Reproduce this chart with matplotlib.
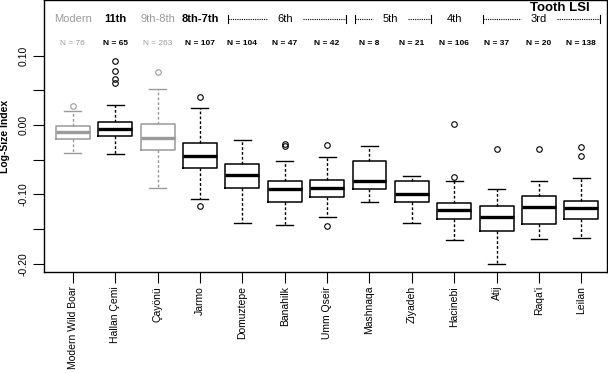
import matplotlib
matplotlib.use('Agg')
import matplotlib.pyplot as plt
import matplotlib.transforms as mtransforms

plt.rcParams['font.family'] = ['Liberation Sans', 'DejaVu Sans']

# site names and sample sizes
sites = ['Modern Wild Boar', 'Hallan Çemi', 'Çayönü', 'Jarmo', 'Domuztepe',
         'Banahilk', 'Umm Qseir', 'Mashnaqa', 'Ziyadeh', 'Hacinebi', 'Atij',
         "Raqa'i", 'Leilan']
n_sizes = [76, 65, 263, 107, 104, 47, 42, 8, 21, 106, 37, 20, 138]
grey_sites = [0, 2]

# box statistics
whislo = [-0.040, -0.042, -0.091, -0.107, -0.141, -0.144, -0.1325, -0.111,
          -0.141, -0.166, -0.201, -0.164, -0.163]
q1 = [-0.020, -0.0164, -0.036, -0.0617, -0.090, -0.1108, -0.104, -0.0915,
      -0.1108, -0.135, -0.152, -0.1426, -0.136]
med = [-0.010, -0.0053, -0.0183, -0.0439, -0.0718, -0.092, -0.0906, -0.080,
       -0.100, -0.1223, -0.132, -0.118, -0.119]
q3 = [-0.0014, 0.0048, 0.0019, -0.0255, -0.0559, -0.080, -0.079, -0.0525,
      -0.081, -0.1122, -0.1166, -0.1021, -0.1088]
whishi = [0.0207, 0.0284, 0.052, 0.025, -0.0217, -0.0525, -0.0458,
          -0.0303, -0.0737, -0.081, -0.0925, -0.0805, -0.0761]
fliers = [[0.0275], [0.0925, 0.078, 0.0658, 0.060], [0.076], [0.0405, -0.1166],
          [], [-0.028, -0.030], [-0.0284, -0.145], [], [], [0.001, -0.0747],
          [-0.0342], [-0.0342], [-0.0322, -0.0439]]

# period header
periods = ['Modern', '11th', '9th-8th', '8th-7th', '6th', '5th', '4th', '3rd']
period_groups = [[0], [1], [2], [3], [4, 5, 6], [7, 8], [9], [10, 11, 12]]

fig = plt.figure(figsize=(6.08, 3.73), dpi=100)
ax = fig.add_axes([0.0724, 0.2708, 0.9256, 0.7279])

grey = '#9a9a9a'
for i in range(len(sites)):
    col = grey if i in grey_sites else 'black'
    stats = [dict(whislo=whislo[i], q1=q1[i], med=med[i], q3=q3[i],
                  whishi=whishi[i], fliers=fliers[i])]
    ax.bxp(stats, positions=[i + 1], widths=0.8, showfliers=True,
           boxprops=dict(color=col, lw=1.1),
           medianprops=dict(color=col, lw=2.4, solid_capstyle='butt'),
           whiskerprops=dict(color=col, lw=1.0, ls=(0, (2, 1.5))),
           capprops=dict(color=col, lw=1.0),
           capwidths=0.4,
           flierprops=dict(marker='o', markersize=4, markerfacecolor='none',
                           markeredgecolor=col, markeredgewidth=0.8))

ax.set_xlim(0.32, 13.6)
ax.set_ylim(-0.2118, 0.1796)
ax.set_xticks(range(1, len(sites) + 1))
ax.set_xticklabels(sites, rotation=90, fontsize=7.5)
ax.set_yticks([0.10, 0.05, 0.00, -0.05, -0.10, -0.15, -0.20])
ax.set_yticklabels(['0.10', '', '0.00', '', '-0.10', '', '-0.20'],
                   rotation=90, va='center', fontsize=7.5)
ax.tick_params(axis='both', length=8, width=0.8, color='black')
ax.tick_params(axis='x', pad=2)
ax.tick_params(axis='y', pad=3)
for sp in ax.spines.values():
    sp.set_linewidth(1.0)
ax.set_ylabel('Log-Size Index', fontsize=7.5, fontweight='bold', labelpad=6)

trans = mtransforms.blended_transform_factory(ax.transData, ax.transAxes)

# period labels and brackets
for name, grp in zip(periods, period_groups):
    is_grey = grp[0] in grey_sites
    col = grey if is_grey else 'black'
    center = (grp[0] + grp[-1]) / 2 + 1
    weight = 'bold' if name in ('11th', '8th-7th') else 'normal'
    ax.text(center, 0.932, name, transform=trans, ha='center', va='center',
            fontsize=8, color=col, fontweight=weight)
    if len(grp) > 1:
        x0 = grp[0] + 1 - 0.33
        x1 = grp[-1] + 1 + 0.45
        for a, b in [(x0, center - 0.42), (center + 0.42, x1)]:
            ax.plot([a, b], [0.932, 0.932], transform=trans, color='black',
                    lw=0.8, ls=(0, (1, 1)), clip_on=False)
        for xe in (x0, x1):
            ax.plot([xe, xe], [0.917, 0.947], transform=trans, color='black',
                    lw=0.8, clip_on=False)

# sample sizes
for i, n in enumerate(n_sizes):
    is_grey = i in grey_sites
    ax.text(i + 1, 0.843, 'N = %d' % n, transform=trans, ha='center',
            va='center', fontsize=6, color=grey if is_grey else 'black',
            fontweight='normal' if is_grey else 'bold')

ax.text(12.5, 0.974, 'Tooth LSI', transform=trans, ha='center', va='center',
        fontsize=9.5, fontweight='bold')

fig.savefig('out.png', dpi=100)
